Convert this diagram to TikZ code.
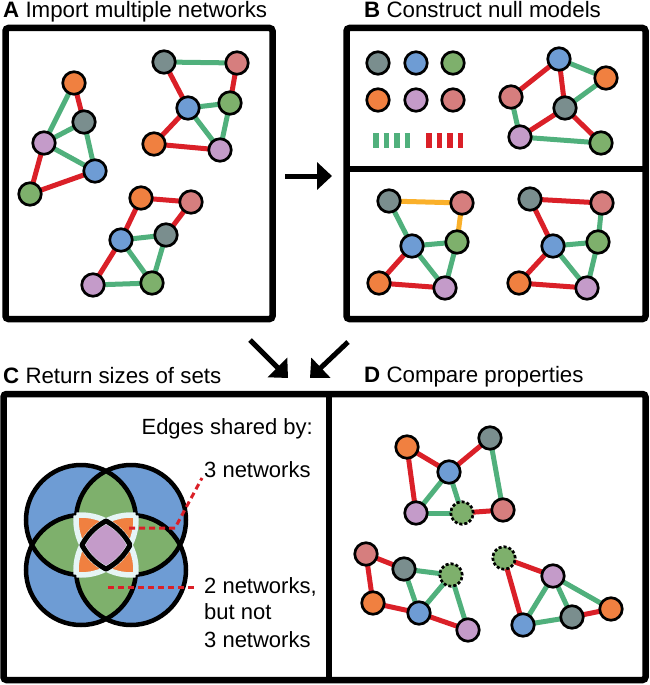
\documentclass[tikz,border=0pt]{standalone}
\usepackage{fontspec}
\setmainfont{Liberation Sans}
\usetikzlibrary{arrows.meta,backgrounds}
\definecolor{cgray}{RGB}{122,142,142}
\definecolor{cblue}{RGB}{110,156,212}
\definecolor{cgreen}{RGB}{126,176,108}
\definecolor{corange}{RGB}{240,128,64}
\definecolor{cpurple}{RGB}{196,155,201}
\definecolor{cpink}{RGB}{214,126,126}
\definecolor{egreen}{RGB}{80,176,124}
\definecolor{ered}{RGB}{218,32,40}
\definecolor{eorange}{RGB}{250,176,42}
\definecolor{pale}{RGB}{230,245,245}
\begin{document}
\begin{tikzpicture}[x=1pt,y=-1pt,
 nd/.style={circle,draw=black,line width=2.7pt,minimum size=22.5pt,inner sep=0pt},
 dnd/.style={nd,dash pattern=on 3pt off 2pt},
 er/.style={draw=ered,line width=5pt},
 eg/.style={draw=egreen,line width=5pt},
 eo/.style={draw=eorange,line width=5pt},
 box/.style={draw=black,line width=6.5pt,rounded corners=3pt},
 ttl/.style={anchor=base west,inner sep=0pt,font=\fontsize{22.3}{27}\selectfont},
 lbl/.style={anchor=base west,inner sep=0pt,font=\fontsize{22}{27}\selectfont},
 bigarrow/.style={line width=5pt,-{Triangle[length=15pt,width=27pt]}},
 vline/.style={line width=4.5pt},
 lead/.style={draw=ered,line width=3pt,dash pattern=on 6pt off 4pt},
]
\useasboundingbox (0,0) rectangle (649,685);

% ---------- boxes ----------
\draw[box] (5.5,28) rectangle (272.5,319);
\draw[box] (346.5,28) rectangle (645.5,319);
\draw[box] (346.5,169) -- (645.5,169);
\draw[box] (3.5,394) rectangle (645.5,680);
\draw[box] (329,394) -- (329,680);

% ---------- titles ----------
\node[ttl] (tA) at (3,17.5) {\textbf{A} Import multiple networks};
\node[ttl] (tB) at (364,18) {\textbf{B} Construct null models};
\node[ttl] (tC) at (3,383) {\textbf{C} Return sizes of sets};
\node[ttl] (tD) at (364,382) {\textbf{D} Compare properties};

% ---------- arrows ----------
\coordinate (ah1) at (285,176); \coordinate (ah2) at (332,176);
\draw[bigarrow] (ah1) -- (ah2);
\coordinate (ad1) at (250,340); \coordinate (ad2) at (288,378);
\draw[bigarrow] (ad1) -- (ad2);
\coordinate (ad3) at (348,342); \coordinate (ad4) at (310,378);
\draw[bigarrow] (ad3) -- (ad4);

% ---------- panel A ----------
\node[nd,fill=corange] (a1o) at (74,83) {};
\node[nd,fill=cgray] (a1g) at (84,122) {};
\node[nd,fill=cpurple] (a1p) at (44,143) {};
\node[nd,fill=cblue] (a1b) at (95,171) {};
\node[nd,fill=cgreen] (a1n) at (30,194) {};
\node[nd,fill=cgray] (a2g) at (164,62) {};
\node[nd,fill=cpink] (a2k) at (237,63) {};
\node[nd,fill=cblue] (a2b) at (188,108) {};
\node[nd,fill=cgreen] (a2n) at (230,103) {};
\node[nd,fill=corange] (a2o) at (154,144) {};
\node[nd,fill=cpurple] (a2p) at (220,150) {};
\node[nd,fill=corange] (a3o) at (141,198) {};
\node[nd,fill=cpink] (a3k) at (191,202) {};
\node[nd,fill=cblue] (a3b) at (121,240) {};
\node[nd,fill=cgray] (a3g) at (166,235) {};
\node[nd,fill=cpurple] (a3p) at (93,285) {};
\node[nd,fill=cgreen] (a3n) at (152,283) {};
\begin{pgfonlayer}{background}
\draw[er] (a1o.center) -- (a1g.center);
\draw[eg] (a1o.center) -- (a1p.center);
\draw[eg] (a1p.center) -- (a1g.center);
\draw[eg] (a1p.center) -- (a1b.center);
\draw[eg] (a1g.center) -- (a1b.center);
\draw[er] (a1p.center) -- (a1n.center);
\draw[er] (a1n.center) -- (a1b.center);
\draw[eg] (a2g.center) -- (a2k.center);
\draw[er] (a2g.center) -- (a2b.center);
\draw[er] (a2k.center) -- (a2n.center);
\draw[eg] (a2b.center) -- (a2n.center);
\draw[er] (a2b.center) -- (a2o.center);
\draw[eg] (a2b.center) -- (a2p.center);
\draw[eg] (a2n.center) -- (a2p.center);
\draw[er] (a2o.center) -- (a2p.center);
\draw[er] (a3o.center) -- (a3k.center);
\draw[er] (a3o.center) -- (a3b.center);
\draw[er] (a3k.center) -- (a3g.center);
\draw[eg] (a3b.center) -- (a3g.center);
\draw[er] (a3b.center) -- (a3p.center);
\draw[eg] (a3b.center) -- (a3n.center);
\draw[eg] (a3g.center) -- (a3n.center);
\draw[eg] (a3p.center) -- (a3n.center);
\end{pgfonlayer}

% ---------- panel B top ----------
\node[nd,fill=cgray] (bg1) at (378,63) {};
\node[nd,fill=cblue] (bg2) at (416,63) {};
\node[nd,fill=cgreen] (bg3) at (453,63) {};
\node[nd,fill=corange] (bg4) at (378,100) {};
\node[nd,fill=cpurple] (bg5) at (416,100) {};
\node[nd,fill=cpink] (bg6) at (453,100) {};
\draw[draw=egreen,line width=15pt,dash pattern=on 5.5pt off 5pt] (373,140.5) -- (410,140.5);
\draw[draw=ered,line width=15pt,dash pattern=on 5.5pt off 5pt] (426,140.5) -- (464,140.5);
\node[nd,fill=cblue] (b0b) at (559,59) {};
\node[nd,fill=corange] (b0o) at (606,78) {};
\node[nd,fill=cpink] (b0k) at (511,97) {};
\node[nd,fill=cgray] (b0g) at (565,108) {};
\node[nd,fill=cpurple] (b0p) at (520,137) {};
\node[nd,fill=cgreen] (b0n) at (601,143) {};
% ---------- panel B bottom ----------
\node[nd,fill=cgray] (b1g) at (389,201) {};
\node[nd,fill=cpink] (b1k) at (462,203) {};
\node[nd,fill=cblue] (b1b) at (412,246) {};
\node[nd,fill=cgreen] (b1n) at (457,242) {};
\node[nd,fill=corange] (b1o) at (379,283) {};
\node[nd,fill=cpurple] (b1p) at (445,288) {};
\node[nd,fill=cgray] (b2g) at (530,199) {};
\node[nd,fill=cpink] (b2k) at (602,203) {};
\node[nd,fill=cblue] (b2b) at (553,246) {};
\node[nd,fill=cgreen] (b2n) at (598,242) {};
\node[nd,fill=corange] (b2o) at (519,283) {};
\node[nd,fill=cpurple] (b2p) at (587,288) {};
\begin{pgfonlayer}{background}
\draw[eg] (b0b.center) -- (b0o.center);
\draw[er] (b0b.center) -- (b0k.center);
\draw[er] (b0b.center) -- (b0g.center);
\draw[eg] (b0o.center) -- (b0g.center);
\draw[eg] (b0k.center) -- (b0p.center);
\draw[er] (b0g.center) -- (b0p.center);
\draw[er] (b0g.center) -- (b0n.center);
\draw[eg] (b0p.center) -- (b0n.center);
\draw[eo] (b1g.center) -- (b1k.center);
\draw[eo] (b1k.center) -- (b1n.center);
\draw[eg] (b1g.center) -- (b1b.center);
\draw[eg] (b1b.center) -- (b1n.center);
\draw[er] (b1b.center) -- (b1o.center);
\draw[eg] (b1b.center) -- (b1p.center);
\draw[eg] (b1n.center) -- (b1p.center);
\draw[er] (b1o.center) -- (b1p.center);
\draw[er] (b2g.center) -- (b2k.center);
\draw[er] (b2g.center) -- (b2b.center);
\draw[eg] (b2k.center) -- (b2n.center);
\draw[eg] (b2b.center) -- (b2n.center);
\draw[er] (b2b.center) -- (b2o.center);
\draw[eg] (b2b.center) -- (b2p.center);
\draw[eg] (b2n.center) -- (b2p.center);
\draw[er] (b2o.center) -- (b2p.center);
\end{pgfonlayer}

% ---------- panel D ----------
\node[nd,fill=corange] (d1o) at (407,447) {};
\node[nd,fill=cgray] (d1g) at (490,438) {};
\node[nd,fill=cblue] (d1b) at (449,472) {};
\node[nd,fill=cpurple] (d1p) at (416,513) {};
\node[dnd,fill=cgreen] (d1n) at (462,513) {};
\node[nd,fill=cpink] (d1k) at (503,510) {};
\node[nd,fill=cpink] (d2k) at (366,554) {};
\node[nd,fill=cgray] (d2g) at (404,569) {};
\node[dnd,fill=cgreen] (d2n) at (451,575) {};
\node[nd,fill=corange] (d2o) at (373,603) {};
\node[nd,fill=cblue] (d2b) at (419,613) {};
\node[nd,fill=cpurple] (d2p) at (468,630) {};
\node[dnd,fill=cgreen] (d3n) at (504,558) {};
\node[nd,fill=cpurple] (d3p) at (553,576) {};
\node[nd,fill=cblue] (d3b) at (523,625) {};
\node[nd,fill=cgray] (d3g) at (572,617) {};
\node[nd,fill=corange] (d3o) at (611,609) {};
\begin{pgfonlayer}{background}
\draw[er] (d1o.center) -- (d1b.center);
\draw[er] (d1b.center) -- (d1g.center);
\draw[er] (d1o.center) -- (d1p.center);
\draw[eg] (d1b.center) -- (d1p.center);
\draw[eg] (d1b.center) -- (d1n.center);
\draw[eg] (d1g.center) -- (d1k.center);
\draw[eg] (d1p.center) -- (d1n.center);
\draw[er] (d1n.center) -- (d1k.center);
\draw[er] (d2k.center) -- (d2g.center);
\draw[er] (d2k.center) -- (d2o.center);
\draw[eg] (d2g.center) -- (d2n.center);
\draw[eg] (d2g.center) -- (d2b.center);
\draw[eg] (d2n.center) -- (d2b.center);
\draw[eg] (d2n.center) -- (d2p.center);
\draw[er] (d2o.center) -- (d2b.center);
\draw[er] (d2b.center) -- (d2p.center);
\draw[er] (d3n.center) -- (d3p.center);
\draw[er] (d3n.center) -- (d3b.center);
\draw[eg] (d3p.center) -- (d3b.center);
\draw[eg] (d3p.center) -- (d3g.center);
\draw[eg] (d3p.center) -- (d3o.center);
\draw[eg] (d3b.center) -- (d3g.center);
\draw[er] (d3g.center) -- (d3o.center);
\end{pgfonlayer}

% ---------- panel C: Venn ----------
\coordinate (TL) at (81,520);
\coordinate (TR) at (131,520);
\coordinate (BL) at (81,570);
\coordinate (BR) at (131,570);
\foreach \a in {TL,TR,BL,BR} {\fill[cblue] (\a) circle[radius=55pt];}
\foreach \a/\b in {TL/TR,TL/BL,TL/BR,TR/BL,TR/BR,BL/BR} {
  \begin{scope}\clip (\a) circle[radius=55pt]; \fill[cgreen] (\b) circle[radius=55pt];\end{scope}}
\foreach \a/\b/\c in {TL/TR/BL,TL/TR/BR,TL/BL/BR,TR/BL/BR} {
  \begin{scope}\clip (\a) circle[radius=55pt]; \clip (\b) circle[radius=55pt];
  \fill[corange] (\c) circle[radius=55pt];\end{scope}}
\begin{scope}\clip (TL) circle[radius=55pt]; \clip (TR) circle[radius=55pt]; \clip (BL) circle[radius=55pt];
  \fill[cpurple] (BR) circle[radius=55pt];\end{scope}
\foreach \a in {TL,TR,BL,BR} {\draw[vline] (\a) circle[radius=55pt];}
\foreach \c/\a/\b in {TL/TR/BL,TL/TR/BR,TL/BL/BR,TR/TL/BL,TR/TL/BR,TR/BL/BR,BL/TL/TR,BL/TL/BR,BL/TR/BR,BR/TL/TR,BR/TL/BL,BR/TR/BL} {
  \begin{scope}\clip (\a) circle[radius=55pt]; \clip (\b) circle[radius=55pt];
  \draw[draw=pale,line width=5.5pt] (\c) circle[radius=55pt];\end{scope}}
\foreach \c/\a/\b/\d in {TL/TR/BL/BR,TR/TL/BL/BR,BL/TL/TR/BR,BR/TL/TR/BL} {
  \begin{scope}\clip (\a) circle[radius=57pt]; \clip (\b) circle[radius=57pt]; \clip (\d) circle[radius=57pt];
  \draw[line width=5pt] (\c) circle[radius=55pt];\end{scope}}

\node[lbl,anchor=base east] (tE) at (313,434) {Edges shared by:};
\node[lbl] (t3) at (204,477) {3 networks};
\node[lbl] (t2) at (204,593) {2 networks,};
\node[lbl] (t2b) at (204,619) {but not};
\node[lbl] (t2c) at (204,647) {3 networks};
\coordinate (l3a) at (129,528); \coordinate (l3b) at (175,528); \coordinate (l3c) at (202,478);
\draw[lead] (l3a) -- (l3b) -- (l3c);
\coordinate (l2a) at (108,587); \coordinate (l2b) at (197,587);
\draw[lead] (l2a) -- (l2b);
\end{tikzpicture}
\end{document}
